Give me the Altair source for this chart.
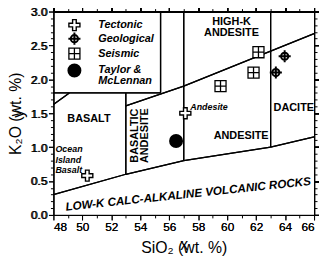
import altair as alt
import pandas as pd

# ---- data ----
# boundary polylines (SiO2, K2O)
low_k_x = [48, 53, 57, 63, 66]
low_k_y = [0.30, 0.60, 0.80, 1.00, 1.15]
high_k1_x = [48, 49.1]
high_k1_y = [1.63, 1.80]
high_k2_x = [53, 57, 66]
high_k2_y = [1.61, 1.90, 2.675]
box_x = [48, 55.4, 55.4]
box_y = [1.80, 1.80, 3.0]
v53_x = [53, 53]; v53_y = [0.60, 1.80]
v57_x = [57, 57]; v57_y = [0.80, 3.0]
v63_x = [63, 63]; v63_y = [1.00, 3.0]

# samples (last entry of each = legend symbol)
tect_x = [50.34, 57.11, 49.45]
tect_y = [0.58, 1.50, 2.80]
geol_x = [63.97, 63.36, 49.45]
geol_y = [2.34, 2.10, 2.60]
seis_x = [62.16, 61.82, 59.54, 49.45]
seis_y = [2.40, 2.10, 1.90, 2.38]
tm_x = [56.47, 49.45]
tm_y = [1.09, 2.13]

# labels (one entry per line)
bold_text = ["BASALT", "HIGH-K", "ANDESITE", "ANDESITE", "DACITE"]
bold_x = [50.45, 60.3, 60.3, 60.96, 64.6]
bold_y = [1.42, 2.85, 2.68, 1.165, 1.58]

rot_text = ["BASALTIC", "ANDESITE"]
rot_x = [53.64, 54.32]
rot_y = [1.17, 1.17]

leg_text = ["Tectonic", "Geological", "Seismic", "Taylor &", "McLennan"]
leg_x = [51.1, 51.1, 51.1, 51.1, 51.1]
leg_y = [2.80, 2.60, 2.38, 2.13, 1.97]

small_text = ["Andesite", "Ocean", "Island", "Basalt"]
small_x = [57.45, 48.14, 48.14, 48.14]
small_y = [1.59, 0.965, 0.815, 0.66]

lowk_text = ["LOW-K CALC-ALKALINE VOLCANIC ROCKS"]
lowk_x = [57.3]
lowk_y = [0.31]

x_ticks = list(range(48, 67))
y_ticks = [i / 10 for i in range(0, 31)]

# ---- build tables ----
segs = []
for xs_, ys_ in [(low_k_x, low_k_y), (high_k1_x, high_k1_y), (high_k2_x, high_k2_y),
                 (box_x, box_y), (v53_x, v53_y), (v57_x, v57_y), (v63_x, v63_y)]:
    for i in range(len(xs_) - 1):
        segs.append({"x": xs_[i], "y": ys_[i], "x2": xs_[i + 1], "y2": ys_[i + 1]})
seg_df = pd.DataFrame(segs)

FONT = "Liberation Sans"
xs = alt.Scale(domain=[48, 66], nice=False, zero=False)
ys = alt.Scale(domain=[0, 3], nice=False, zero=False)

x_major = {"condition": {"test": "datum.value % 2 === 0", "value": 5}, "value": 3}
y_major = {"condition": {"test": "round(datum.value * 10) % 5 === 0", "value": 5}, "value": 3}

x_bottom = alt.X("x:Q", scale=xs, axis=alt.Axis(
    orient="bottom", values=x_ticks, tickSize=x_major,
    labelExpr="datum.value % 2 === 0 ? datum.label : ''",
    title="SiO₂ (wt. %)", titlePadding=7, labelPadding=2))
y_left = alt.Y("y:Q", scale=ys, axis=alt.Axis(
    orient="left", values=y_ticks, tickSize=y_major,
    labelExpr="round(datum.value * 10) % 5 === 0 ? format(datum.value, '.1f') : ''",
    title="K₂O (wt. %)", titlePadding=8, labelPadding=1))

x_top = alt.X("x:Q", scale=xs, axis=alt.Axis(
    orient="top", values=x_ticks, tickSize=x_major, labels=False, title=None))
y_right = alt.Y("y:Q", scale=ys, axis=alt.Axis(
    orient="right", values=y_ticks, tickSize=y_major, labels=False, title=None))

lines = alt.Chart(seg_df).mark_rule(color="black", strokeWidth=1.3).encode(
    x=x_bottom, y=y_left, x2="x2:Q", y2="y2:Q")

lines_top = alt.Chart(seg_df).mark_rule(color="black", strokeWidth=1.3).encode(
    x=x_top, y=y_right, x2="x2:Q", y2="y2:Q")

cross_path = "M-0.33,-1H0.33V-0.33H1V0.33H0.33V1H-0.33V0.33H-1V-0.33H-0.33Z"
geo_path = "M-0.6,0A0.6,0.6,0,1,1,0.6,0A0.6,0.6,0,1,1,-0.6,0Z M0,-1V1 M-1,0H1"
seis_path = "M-1,-1H1V1H-1Z M0,-1V1 M-1,0H1"

def pts(xv, yv, shape, size, fill, sw):
    df = pd.DataFrame({"x": xv, "y": yv})
    return alt.Chart(df).mark_point(shape=shape, size=size, filled=True, fill=fill,
                                     stroke="black", strokeWidth=sw, opacity=1).encode(
        x=alt.X("x:Q", scale=xs), y=alt.Y("y:Q", scale=ys))

p_tect = pts(tect_x, tect_y, cross_path, 125, "white", 1.4)
p_geol = pts(geol_x, geol_y, geo_path, 150, "white", 2.0)
p_seis = pts(seis_x, seis_y, seis_path, 125, "white", 1.3)
p_tm = pts(tm_x, tm_y, "circle", 200, "black", 0)

def txt(texts, xv, yv, size, style="normal", angle=0, align="center"):
    df = pd.DataFrame({"t": texts, "x": xv, "y": yv})
    kw = dict(font=FONT, fontSize=size, fontWeight="bold", fontStyle=style,
              align=align, baseline="middle", color="black")
    if angle:
        kw["angle"] = angle
    return alt.Chart(df).mark_text(**kw).encode(
        x=alt.X("x:Q", scale=xs), y=alt.Y("y:Q", scale=ys), text="t:N")

t_bold = txt(bold_text, bold_x, bold_y, 11)
t_rot = txt(rot_text, rot_x, rot_y, 11, angle=270)
t_leg = txt(leg_text, leg_x, leg_y, 11, style="italic", align="left")
t_small = txt(small_text, small_x, small_y, 9, style="italic", align="left")
t_lowk = txt(lowk_text, lowk_x, lowk_y, 11.8, style="italic", angle=354)

chart = alt.layer(lines, lines_top, p_tect, p_geol, p_seis, p_tm,
                  t_bold, t_rot, t_leg, t_small, t_lowk).resolve_axis(
    x="independent", y="independent").properties(
    width=264, height=206,
    padding={"left": 46, "top": 2, "right": 5, "bottom": 40},
    autosize=alt.AutoSizeParams(type="none"),
).configure_view(stroke="black", strokeWidth=1).configure_axis(
    grid=False, domainColor="black", tickColor="black", labelColor="black",
    titleColor="black", labelFont=FONT, titleFont=FONT, labelFontSize=12,
    titleFontSize=16, titleFontWeight="normal", domainWidth=1, tickWidth=1)

chart.save("out.html", embed_options={"renderer": "svg", "actions": False})
